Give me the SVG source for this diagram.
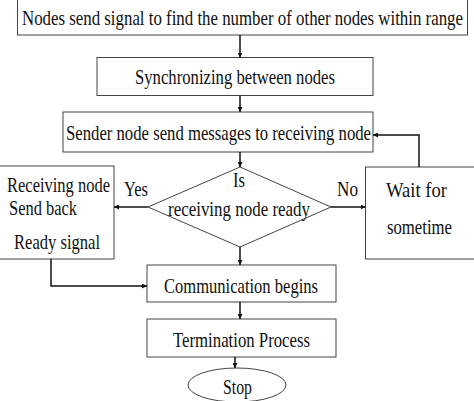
<svg xmlns="http://www.w3.org/2000/svg" width="474" height="401" viewBox="0 0 474 401">
<defs>
<marker id="ah" viewBox="0 0 8 8" refX="8" refY="4" markerWidth="5" markerHeight="5" orient="auto" markerUnits="userSpaceOnUse">
<path d="M0,0 L8,4 L0,8 z" fill="#111"/>
</marker>
</defs>
<style>
.box{fill:#fff;stroke:#444;stroke-width:1}
.t{font-family:"Liberation Serif","Times New Roman",serif;font-size:21.5px;fill:#111}
.c{fill:none;stroke:#111;stroke-width:1.5;marker-end:url(#ah)}
</style>
<rect width="474" height="401" fill="#fff"/>
<g id="n1"><rect class="box" x="17.5" y="-1" width="450" height="36"/>
<text class="t" x="22" y="24.5" textLength="441" lengthAdjust="spacingAndGlyphs">Nodes send signal to find the number of other nodes  within range</text></g>
<g id="n2"><rect class="box" x="97" y="57.5" width="276" height="38"/>
<text class="t" x="135" y="84" textLength="200" lengthAdjust="spacingAndGlyphs">Synchronizing between nodes</text></g>
<g id="n3"><rect class="box" x="63" y="112" width="310" height="40"/>
<text class="t" x="66" y="140" textLength="305" lengthAdjust="spacingAndGlyphs">Sender node send messages to receiving node</text></g>
<g id="d1"><polygon class="box" points="240,167 331,207 240,247 148,207"/>
<text class="t" x="233" y="187" textLength="12" lengthAdjust="spacingAndGlyphs">Is</text>
<text class="t" x="168" y="216" textLength="142" lengthAdjust="spacingAndGlyphs">receiving node ready</text></g>
<g id="n4"><rect class="box" x="-1" y="166" width="115" height="93"/>
<text class="t" x="7" y="192" textLength="103" lengthAdjust="spacingAndGlyphs">Receiving node</text>
<text class="t" x="9" y="215" textLength="68" lengthAdjust="spacingAndGlyphs">Send back</text>
<text class="t" x="14" y="249" textLength="86" lengthAdjust="spacingAndGlyphs">Ready signal</text></g>
<g id="n5"><rect class="box" x="365.5" y="167" width="112" height="92"/>
<text class="t" x="386" y="197" textLength="61" lengthAdjust="spacingAndGlyphs">Wait for</text>
<text class="t" x="387" y="234" textLength="65" lengthAdjust="spacingAndGlyphs">sometime</text></g>
<g id="n6"><rect class="box" x="147" y="265" width="189" height="37"/>
<text class="t" x="164" y="293" textLength="154" lengthAdjust="spacingAndGlyphs">Communication begins</text></g>
<g id="n7"><rect class="box" x="147" y="319" width="189" height="38"/>
<text class="t" x="173" y="347" textLength="137" lengthAdjust="spacingAndGlyphs">Termination Process</text></g>
<g id="n8"><ellipse class="box" cx="237" cy="385" rx="49" ry="17"/>
<text class="t" x="223" y="394" textLength="29" lengthAdjust="spacingAndGlyphs">Stop</text></g>
<g id="connectors">
<path class="c" d="M240,35 V57.5"/>
<path class="c" d="M240,95.5 V112"/>
<path class="c" d="M240,152 V167"/>
<path class="c" d="M148,207 H114"/>
<path class="c" d="M331,207 H365.5"/>
<path class="c" d="M419,167 V135 H373"/>
<path class="c" d="M240,247 V265"/>
<path class="c" d="M51,259 V286 H147"/>
<path class="c" d="M240,302 V319"/>
<path class="c" d="M235,357 V368"/>
<text class="t" x="124" y="196" textLength="24" lengthAdjust="spacingAndGlyphs">Yes</text>
<text class="t" x="337" y="196" textLength="21" lengthAdjust="spacingAndGlyphs">No</text>
</g>
</svg>
